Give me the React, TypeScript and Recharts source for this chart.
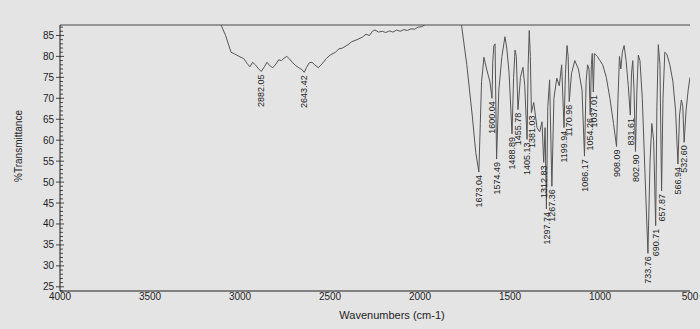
import { ComposedChart, Line, Scatter, XAxis, YAxis, ReferenceLine } from "recharts";

const FONT = "Arial, 'Liberation Sans', Helvetica, sans-serif";
const INK = "#1e1e1e";

// C-H stretch region (4000 - 1800 cm-1)
const highWn = [
  4000, 3600, 3150, 3110, 3080, 3050, 3030, 3005, 2980, 2960, 2945, 2930, 2915, 2900, 2882.05,
  2865, 2850, 2835, 2818, 2800, 2785, 2770, 2755, 2740, 2725, 2710, 2690, 2670, 2655, 2643.42,
  2630, 2615, 2600, 2585, 2565, 2545, 2520, 2500, 2470, 2450, 2430, 2400, 2380, 2350, 2320,
  2300, 2280, 2265, 2250, 2230, 2210, 2190, 2170, 2150, 2130, 2110, 2090, 2070, 2050, 2030,
  2010, 1990, 1970, 1950, 1930, 1900, 1800,
];
const highT = [
  92, 92, 91, 88, 85, 81, 80.6, 80, 79.5, 78.3, 77.5, 78.6, 78, 77.2, 76.4,
  77.5, 78.6, 77.8, 77.3, 78.2, 79.2, 79, 79.6, 80, 79.4, 78.6, 77.8, 77.2, 76.8, 76.2,
  77.4, 78.5, 78.6, 78, 77.3, 78.2, 79.5, 80.3, 81, 81.8, 82, 82.8, 83.5, 84, 84.6,
  85.3, 85, 86, 86.3, 85.8, 86, 85.7, 86.1, 85.8, 86.3, 86, 86.4, 86.2, 86.6, 86.5,
  87, 87.1, 87.6, 87.8, 88.5, 89, 89,
];

// double bond / fingerprint region (1780 - 1015 cm-1)
const midWn = [
  1780, 1771, 1740, 1710, 1690, 1673.04, 1665, 1658, 1652, 1645, 1630, 1612, 1600.04, 1596,
  1590, 1583, 1574.49, 1562, 1545, 1528, 1518, 1505, 1488.89, 1480, 1472, 1465, 1455.78, 1442,
  1428, 1418, 1405.13, 1399, 1393, 1387, 1381.03, 1368, 1350, 1335, 1322, 1312.83, 1305,
  1297.74, 1290, 1280, 1267.36, 1256, 1240, 1226, 1213, 1199.94, 1192, 1183, 1177, 1170.96,
  1158, 1140, 1120, 1100, 1086.17, 1077, 1069, 1061, 1054.26, 1048, 1043, 1037.01, 1031, 1015,
];
const midT = [
  89, 88, 78, 66, 57, 52.4, 64, 74, 76.5, 79.8, 77, 74, 70, 78.5,
  82.5, 83, 55.5, 72, 80, 84.7, 82, 76, 61.5, 75, 81.5, 80, 67.3, 75,
  77.4, 73, 60.2, 78, 86.2, 80, 66.6, 69, 63, 62, 64.4, 54.7, 63,
  43.6, 68, 74.4, 49, 70, 74.8, 73, 78, 63, 76, 82.6, 80, 69.2,
  76, 79, 77, 72, 56.2, 74, 78, 77, 66, 78, 80.7, 71.5, 80.7, 80,
];

// low region (1000 - 500 cm-1)
const lowWn = [
  1000, 985, 965, 945, 925, 908.09, 900, 892, 884, 876, 866, 855, 843, 831.61, 825, 818, 811,
  802.9, 795, 787, 778, 765, 750, 733.76, 722, 712, 702, 690.71, 684, 676, 667, 657.87, 650,
  640, 628, 612, 595, 580, 566.94, 558, 548, 540, 532.6, 522, 510, 500,
];
const lowT = [
  79, 78, 75, 70, 64, 58.5, 70, 80, 77, 81, 82.6, 79, 73, 66, 76, 79, 72,
  57.3, 72, 80.3, 79, 70, 52, 33, 55, 64, 60, 39.6, 68, 82.8, 78, 47.9, 70,
  81, 80.5, 78, 74, 67, 54.3, 66, 69.6, 68, 59.5, 67, 72, 75,
];

// labelled peaks
const peakWn = [
  2882.05, 2643.42, 1673.04, 1600.04, 1574.49, 1488.89, 1455.78, 1405.13, 1381.03, 1312.83,
  1297.74, 1267.36, 1199.94, 1170.96, 1086.17, 1054.26, 1037.01, 908.09, 831.61, 802.9,
  733.76, 690.71, 657.87, 566.94, 532.6,
];
const peakT = [
  76.4, 76.2, 52.4, 70, 55.5, 61.5, 67.3, 60.2, 66.6, 54.7,
  43.6, 49, 63, 69.2, 56.2, 66, 71.5, 58.5, 66, 57.3,
  33, 39.6, 47.9, 54.3, 59.5,
];

const xTicks = [4000, 3500, 3000, 2500, 2000, 1500, 1000, 500];
const yMajorTicks = [25, 30, 35, 40, 45, 50, 55, 60, 65, 70, 75, 80, 85];
const yTicks: number[] = [];
for (let v = 24; v <= 87; v++) yTicks.push(v);

const spectrum = [
  ...highWn.map((wn, i) => ({ wn, t: highT[i] })),
  ...midWn.map((wn, i) => ({ wn, t: midT[i] })),
  ...lowWn.map((wn, i) => ({ wn, t: lowT[i] })),
];
const peaks = peakWn.map((wn, i) => ({ wn, t: peakT[i] }));

function YTick({ x, y, payload }: any) {
  const v = payload.value;
  const major = yMajorTicks.includes(v);
  return (
    <g>
      <line x1={major ? x - 4 : x} x2={x + (major ? 4 : 3)} y1={y} y2={y} stroke={INK} strokeWidth={0.8} />
      {major && (
        <text x={x - 6} y={y} dy="0.35em" textAnchor="end" fontSize={10} fill={INK} fontFamily={FONT}>
          {v}
        </text>
      )}
    </g>
  );
}

function PeakLabel({ cx, cy, payload }: any) {
  if (cx == null || cy == null) return null;
  const x = cx + 3.2;
  const y = cy + 3;
  return (
    <text
      x={x}
      y={y}
      transform={`rotate(-90 ${x} ${y})`}
      textAnchor="end"
      fontSize={9}
      fill={INK}
      fontFamily={FONT}
    >
      {payload.wn.toFixed(2)}
    </text>
  );
}

export default function App() {
  return (
    <div style={{ position: "fixed", inset: 0, background: "#e4e4e4" }}>
      <ComposedChart width={700} height={329} margin={{ top: 25, right: 10, bottom: 8, left: 0 }}>
        <XAxis
          dataKey="wn"
          type="number"
          domain={[500, 4000]}
          reversed
          allowDataOverflow
          ticks={xTicks}
          interval={0}
          tickLine={false}
          tickSize={1}
          tickMargin={1}
          stroke={INK}
          height={30}
          tick={{ fontSize: 10, fill: INK, fontFamily: FONT }}
          label={{
            value: "Wavenumbers (cm-1)",
            position: "insideBottom",
            offset: 2,
            dx: 17,
            style: { fontSize: 11, fill: INK, fontFamily: FONT },
          }}
        />
        <YAxis
          type="number"
          domain={[24, 87.5]}
          allowDataOverflow
          ticks={yTicks}
          interval={0}
          width={60}
          tickSize={0}
          tickMargin={0}
          tickLine={false}
          stroke={INK}
          tick={<YTick />}
          label={{
            value: "%Transmittance",
            angle: -90,
            position: "insideLeft",
            offset: 18,
            dy: -12,
            style: { fontSize: 10, fill: INK, fontFamily: FONT, textAnchor: "middle" },
          }}
        />
        <ReferenceLine y={87.5} stroke={INK} strokeWidth={0.8} />
        <Line
          data={spectrum}
          dataKey="t"
          type="linear"
          stroke="#555"
          strokeWidth={1}
          dot={false}
          isAnimationActive={false}
        />
        <Scatter
          data={peaks}
          dataKey="t"
          isAnimationActive={false}
          shape={(p: any) => <PeakLabel {...p} />}
        />
      </ComposedChart>
    </div>
  );
}
